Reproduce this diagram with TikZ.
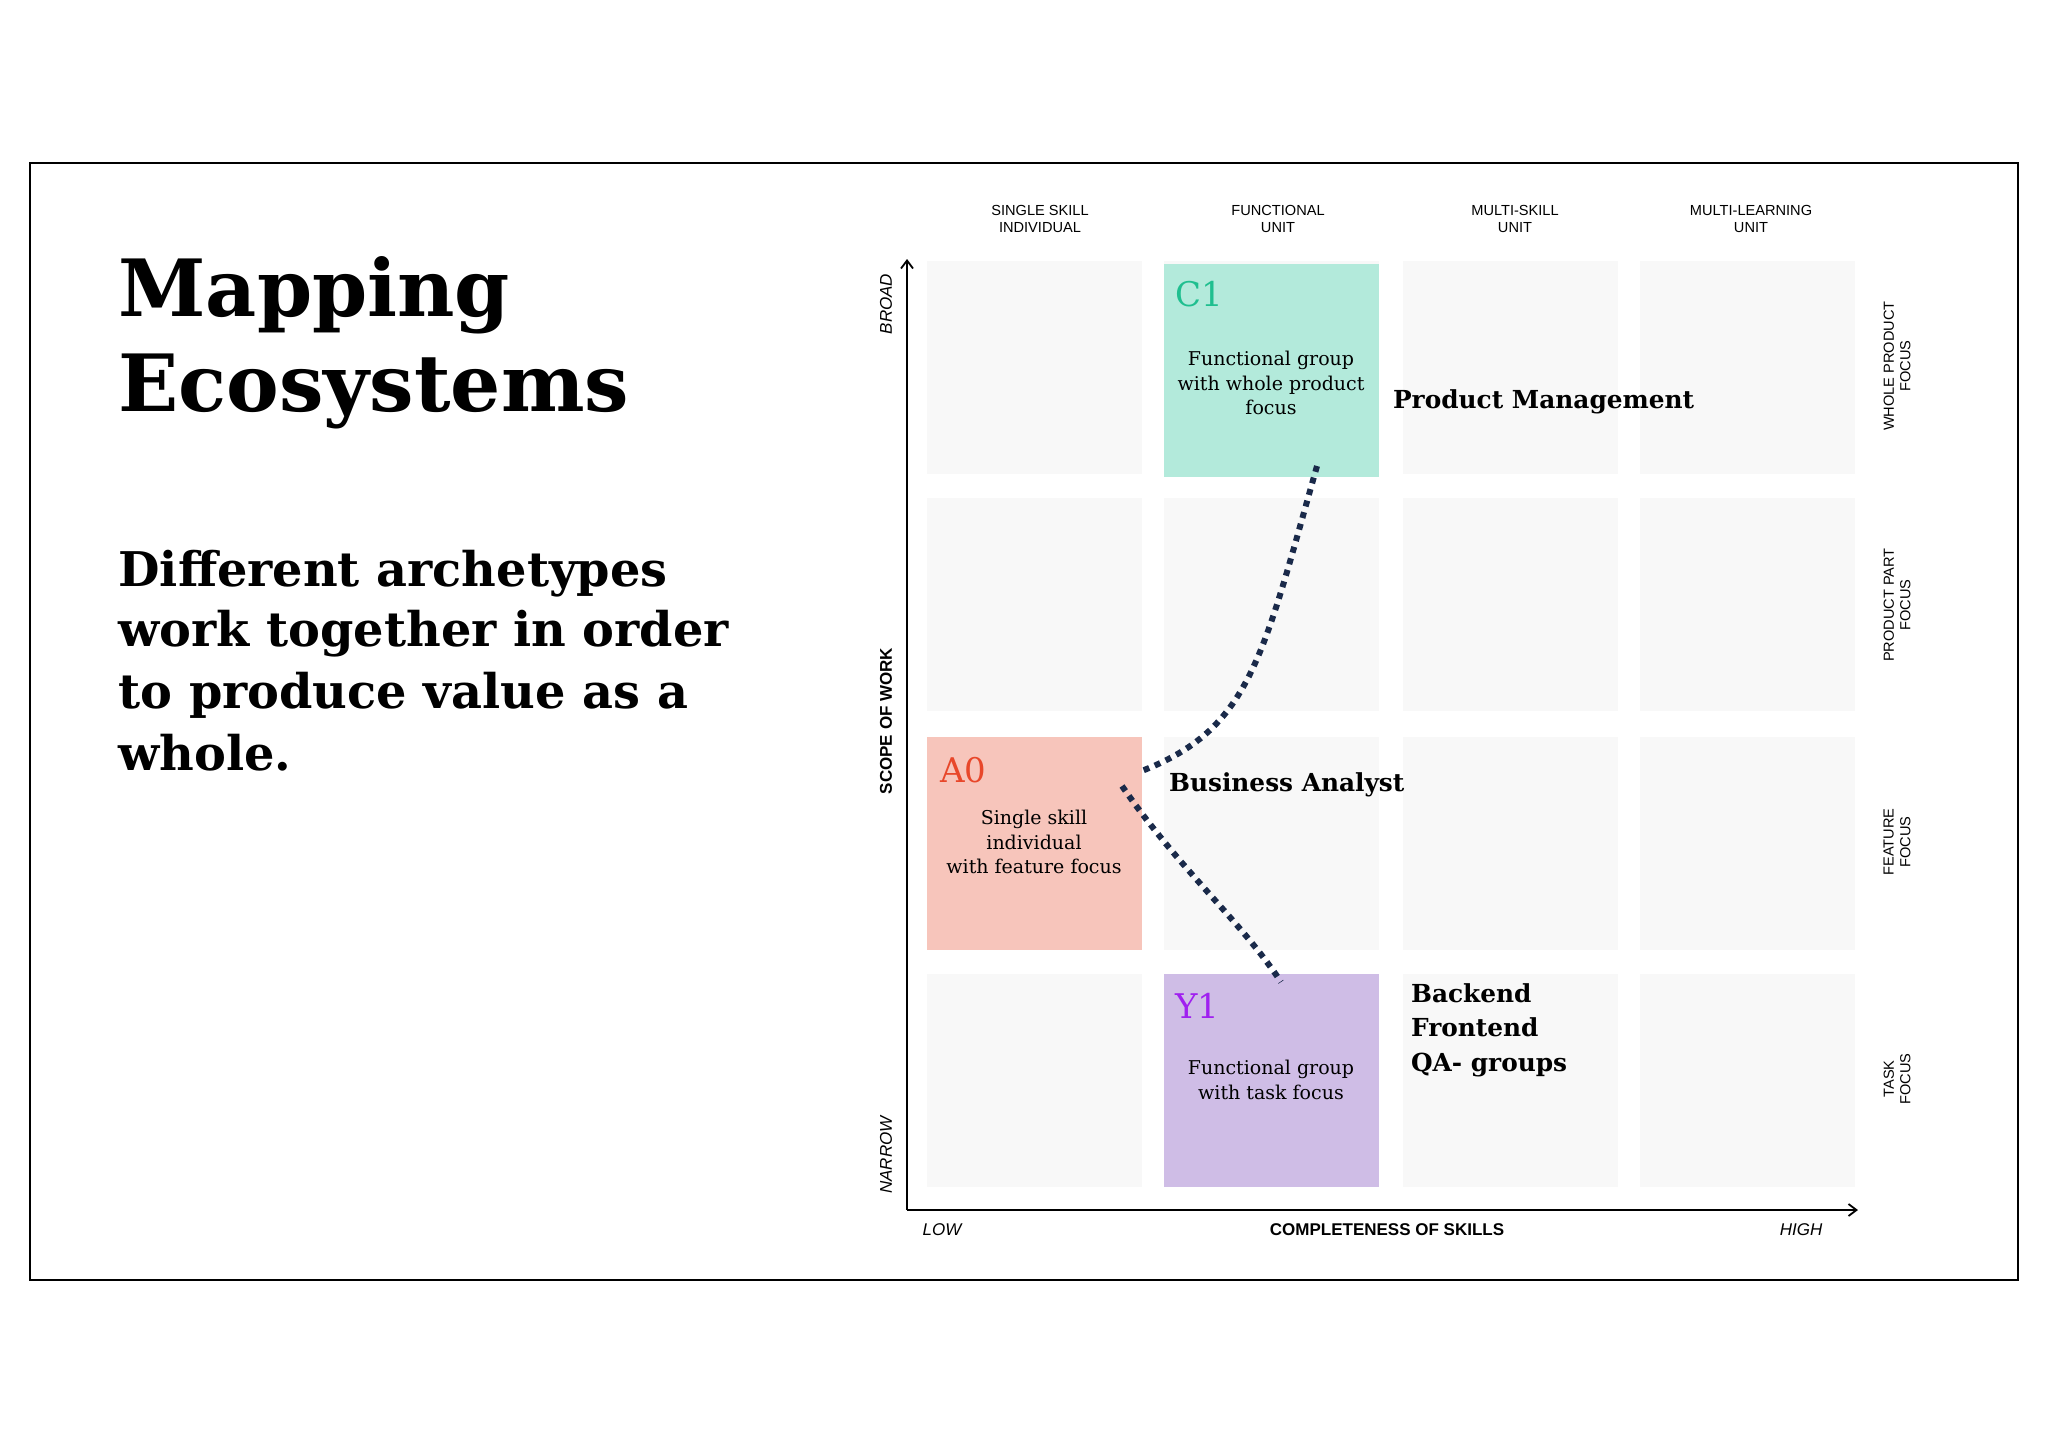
\documentclass[tikz,border=0pt]{standalone}
\usepackage{fontspec}
\setmainfont{DejaVu Serif}
\setsansfont{Liberation Sans}
\usetikzlibrary{arrows.meta}
\definecolor{cellc}{HTML}{F8F8F8}
\definecolor{cone}{HTML}{B3EADB}
\definecolor{azero}{HTML}{F7C5BB}
\definecolor{yone}{HTML}{CFBDE6}
\definecolor{cl}{HTML}{1FBF8F}
\definecolor{al}{HTML}{E8472A}
\definecolor{yl}{HTML}{A020F0}
\definecolor{navy}{HTML}{1A2A4A}
\begin{document}
\begin{tikzpicture}[x=0.5pt,y=-0.5pt,
 cell/.style={fill=cellc,draw=none},
 hdr/.style={font=\sffamily\fontsize{7.3}{8.3}\selectfont,align=center},
 side/.style={font=\sffamily\fontsize{7.3}{8.3}\selectfont,align=center,rotate=90},
 axl/.style={font=\sffamily\itshape\fontsize{8.5}{10}\selectfont},
 boxt/.style={font=\fontsize{9.5}{12.4}\selectfont,align=center},
 big/.style={font=\bfseries\fontsize{12.4}{17.6}\selectfont,anchor=west,align=left},
 tag/.style={font=\fontsize{17}{20}\selectfont,anchor=west},
 dots/.style={navy,line width=3pt,dash pattern=on 3pt off 3pt}]
\useasboundingbox (0,0) rectangle (2048,1447);
\fill[white] (0,0) rectangle (2048,1447);
\draw[line width=1.2pt] (30,163) rectangle (2018,1280);
% title
\node[anchor=base west,font=\bfseries\fontsize{39.5}{47}\selectfont,inner sep=0] (t1) at (118,316) {Mapping};
\node[anchor=base west,font=\bfseries\fontsize{39.5}{47}\selectfont,inner sep=0] (t2) at (118,411) {Ecosystems};
\foreach \s/\y [count=\i] in {Different archetypes/586,work together in order/646,to produce value as a/708,whole./770}
  \node[anchor=base west,font=\bfseries\fontsize{23.9}{30}\selectfont,inner sep=0] (b\i) at (118,\y) {\s};
% cells
\foreach \x in {927,1164,1403,1640}
 \foreach \y in {261,498,737,974}
  \fill[cellc] (\x,\y) rectangle ++(215,213);
\fill[cone] (1164,264) rectangle (1379,477);
\fill[azero] (927,737) rectangle (1142,950);
\fill[yone] (1164,974) rectangle (1379,1187);
\node[tag,text=cl] (c1) at (1168,294) {C1};
\node[tag,text=al] (a0) at (933,770) {A0};
\node[tag,text=yl] (y1) at (1168,1006) {Y1};
\node[boxt] (c1t) at (1271,383) {Functional group\\with whole product\\focus};
\node[boxt] (a0t) at (1034,842) {Single skill\\individual\\with feature focus};
\node[boxt] (y1t) at (1271,1080) {Functional group\\with task focus};
\node[big] (pm) at (1386,402) {Product Management};
\node[big] (ba) at (1162,785) {Business Analyst};
\node[big,font=\bfseries\fontsize{12.4}{17.3}\selectfont] (be) at (1404,1030) {Backend\\Frontend\\QA- groups};
% headers
\node[hdr] (h1) at (1040,219) {SINGLE SKILL\\INDIVIDUAL};
\node[hdr] (h2) at (1278,219) {FUNCTIONAL\\UNIT};
\node[hdr] (h3) at (1515,219) {MULTI-SKILL\\UNIT};
\node[hdr] (h4) at (1751,219) {MULTI-LEARNING\\UNIT};
\node[side] (s1) at (1897,366) {WHOLE PRODUCT\\FOCUS};
\node[side] (s2) at (1897,605) {PRODUCT PART\\FOCUS};
\node[side] (s3) at (1897,842) {FEATURE\\FOCUS};
\node[side] (s4) at (1897,1079) {TASK\\FOCUS};
% axes
\coordinate (o) at (907,1210);
\coordinate (yt) at (907,259);
\coordinate (xt) at (1858,1210);
\draw[line width=0.9pt,-{Straight Barb[length=4pt,width=6pt]}] (o) -- (yt);
\draw[line width=0.9pt,-{Straight Barb[length=4pt,width=6pt]}] (o) -- (xt);
\node[axl,rotate=90] (br) at (886,304) {BROAD};
\node[axl,rotate=90] (na) at (886,1155) {NARROW};
\node[rotate=90,font=\sffamily\bfseries\fontsize{8.5}{10}\selectfont] (sw) at (886,721) {SCOPE OF WORK};
\node[axl] (lo) at (942,1230) {LOW};
\node[axl] (hi) at (1801,1230) {HIGH};
\node[font=\sffamily\bfseries\fontsize{8.5}{10}\selectfont] (cs) at (1387,1230) {COMPLETENESS OF SKILLS};
% dotted connectors
\coordinate (p1) at (1317,466);
\coordinate (p2) at (1139,772);
\coordinate (p3) at (1122,786);
\coordinate (p4) at (1281,982);
\draw[dots] (p1) .. controls (1262,660) and (1250,730) .. (p2);
\draw[dots] (p3) .. controls (1180,870) and (1240,920) .. (p4);
\end{tikzpicture}
\end{document}
